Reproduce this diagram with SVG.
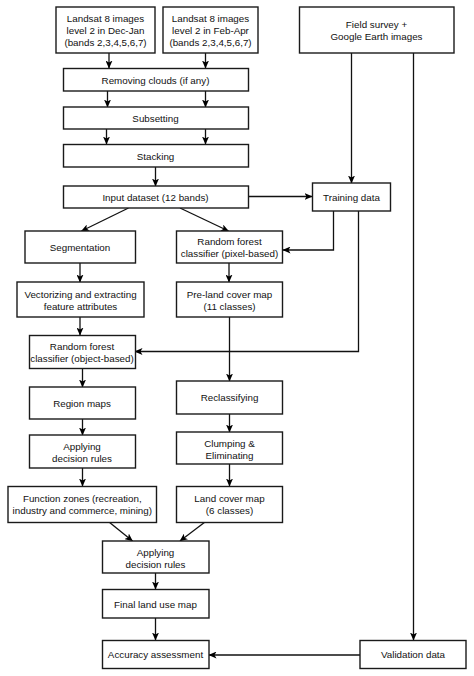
<svg xmlns="http://www.w3.org/2000/svg" width="474" height="676" viewBox="0 0 474 676">
<defs>
<marker id="ah" markerUnits="userSpaceOnUse" markerWidth="8" markerHeight="7" refX="7.5" refY="3.5" orient="auto">
<path d="M0,0 L8,3.5 L0,7 L2,3.5 z" fill="#000"/>
</marker>
<style>
rect{fill:#fff;stroke:#1a1a1a;stroke-width:1.4}
text{font-family:"Liberation Sans",Arial,sans-serif;font-size:9.8px;fill:#111;text-anchor:middle}
.c path,.c line,.c polyline{fill:none;stroke:#111;stroke-width:1.3}
</style>
</defs>
<rect x="0" y="0" width="474" height="676" style="fill:#fff;stroke:none"/>
<g class="c" id="connectors">
<line x1="109" y1="53" x2="109" y2="68" marker-end="url(#ah)"/>
<line x1="205.5" y1="53" x2="205.5" y2="68" marker-end="url(#ah)"/>
<line x1="107.5" y1="91" x2="107.5" y2="107" marker-end="url(#ah)"/>
<line x1="205.5" y1="91" x2="205.5" y2="107" marker-end="url(#ah)"/>
<line x1="106.5" y1="129" x2="106.5" y2="144" marker-end="url(#ah)"/>
<line x1="205.5" y1="129" x2="205.5" y2="144" marker-end="url(#ah)"/>
<line x1="155.5" y1="167" x2="155.5" y2="186" marker-end="url(#ah)"/>
<line x1="248" y1="196.5" x2="312" y2="196.5" marker-end="url(#ah)"/>
<line x1="351.5" y1="53" x2="351.5" y2="183" marker-end="url(#ah)"/>
<polyline points="413.5,53 413.5,640" marker-end="url(#ah)"/>
<line x1="128.5" y1="208" x2="81.5" y2="231" marker-end="url(#ah)"/>
<line x1="180" y1="208" x2="228.5" y2="231" marker-end="url(#ah)"/>
<polyline points="333.5,211 333.5,250 283,250" marker-end="url(#ah)"/>
<polyline points="358.5,211 358.5,351.5 135,351.5" marker-end="url(#ah)"/>
<line x1="80" y1="263" x2="80" y2="282" marker-end="url(#ah)"/>
<line x1="229" y1="263" x2="229" y2="282" marker-end="url(#ah)"/>
<line x1="80" y1="317" x2="80" y2="335" marker-end="url(#ah)"/>
<line x1="229.5" y1="317" x2="229.5" y2="381" marker-end="url(#ah)"/>
<line x1="82.5" y1="368" x2="82.5" y2="387" marker-end="url(#ah)"/>
<line x1="82.5" y1="419" x2="82.5" y2="435" marker-end="url(#ah)"/>
<line x1="229.5" y1="414" x2="229.5" y2="432" marker-end="url(#ah)"/>
<line x1="82.5" y1="468" x2="82.5" y2="486" marker-end="url(#ah)"/>
<line x1="229.5" y1="464" x2="229.5" y2="486" marker-end="url(#ah)"/>
<line x1="109" y1="522" x2="132.5" y2="541" marker-end="url(#ah)"/>
<line x1="205" y1="522" x2="180" y2="541" marker-end="url(#ah)"/>
<line x1="155.5" y1="573" x2="155.5" y2="589" marker-end="url(#ah)"/>
<line x1="155.5" y1="618" x2="155.5" y2="640" marker-end="url(#ah)"/>
<line x1="360" y1="655" x2="209" y2="655" marker-end="url(#ah)"/>
</g>
<g id="landsat1"><rect x="56" y="7" width="99" height="46"/>
<text x="105.5" y="22">Landsat 8 images</text><text x="105.5" y="34">level 2 in Dec-Jan</text><text x="105.5" y="46">(bands 2,3,4,5,6,7)</text></g>
<g id="landsat2"><rect x="163" y="7" width="95" height="46"/>
<text x="210.5" y="22">Landsat 8 images</text><text x="210.5" y="34">level 2 in Feb-Apr</text><text x="210.5" y="46">(bands 2,3,4,5,6,7)</text></g>
<g id="field"><rect x="299.5" y="7" width="154.5" height="46"/>
<text x="376.5" y="28">Field survey +</text><text x="376.5" y="40">Google Earth images</text></g>
<g id="clouds"><rect x="63.5" y="68.5" width="185" height="22.5"/><text x="155.5" y="83.5">Removing clouds (if any)</text></g>
<g id="subset"><rect x="63.5" y="107" width="185" height="22"/><text x="155.5" y="121.5">Subsetting</text></g>
<g id="stack"><rect x="63.5" y="144.5" width="185" height="22.5"/><text x="155.5" y="159.5">Stacking</text></g>
<g id="input"><rect x="63.5" y="186" width="185" height="22"/><text x="155.5" y="200.5">Input dataset (12 bands)</text></g>
<g id="training"><rect x="312.5" y="183" width="78" height="28"/><text x="351.5" y="200.5">Training data</text></g>
<g id="seg"><rect x="25" y="231" width="110.5" height="32"/><text x="80" y="250.5">Segmentation</text></g>
<g id="rfpixel"><rect x="176.5" y="231" width="106" height="32"/><text x="229.5" y="245">Random forest</text><text x="229.5" y="257">classifier (pixel-based)</text></g>
<g id="vector"><rect x="17" y="282" width="127" height="35"/><text x="80.5" y="297.5">Vectorizing and extracting</text><text x="80.5" y="309.5">feature attributes</text></g>
<g id="preland"><rect x="176.5" y="282" width="106" height="35"/><text x="229.5" y="297.5">Pre-land cover map</text><text x="229.5" y="309.5">(11 classes)</text></g>
<g id="rfobject"><rect x="29.5" y="335.5" width="106" height="33"/><text x="82" y="350">Random forest</text><text x="82" y="362">classifier (object-based)</text></g>
<g id="region"><rect x="29.5" y="387" width="106" height="32"/><text x="82" y="406.5">Region maps</text></g>
<g id="reclass"><rect x="176.5" y="381" width="106" height="33"/><text x="229.5" y="400.5">Reclassifying</text></g>
<g id="apply1"><rect x="29.5" y="435" width="106" height="33"/><text x="82" y="449.5">Applying</text><text x="82" y="461.5">decision rules</text></g>
<g id="clump"><rect x="176.5" y="432" width="106" height="32"/><text x="229.5" y="446.5">Clumping &amp;</text><text x="229.5" y="458.5">Eliminating</text></g>
<g id="func"><rect x="8" y="486.5" width="148.5" height="36"/><text x="82.3" y="502">Function zones (recreation,</text><text x="82.3" y="514">industry and commerce, mining)</text></g>
<g id="landcover"><rect x="176.5" y="486.5" width="106" height="36"/><text x="229.5" y="502">Land cover map</text><text x="229.5" y="514">(6 classes)</text></g>
<g id="apply2"><rect x="102.5" y="541" width="106.5" height="32"/><text x="155.5" y="555.5">Applying</text><text x="155.5" y="567.5">decision rules</text></g>
<g id="final"><rect x="102.5" y="589.5" width="106.5" height="28.5"/><text x="155.5" y="607.5">Final land use map</text></g>
<g id="accuracy"><rect x="102.5" y="640.5" width="106.5" height="28"/><text x="155.5" y="658">Accuracy assessment</text></g>
<g id="validation"><rect x="360" y="640.5" width="106" height="28"/><text x="413" y="658">Validation data</text></g>
</svg>
